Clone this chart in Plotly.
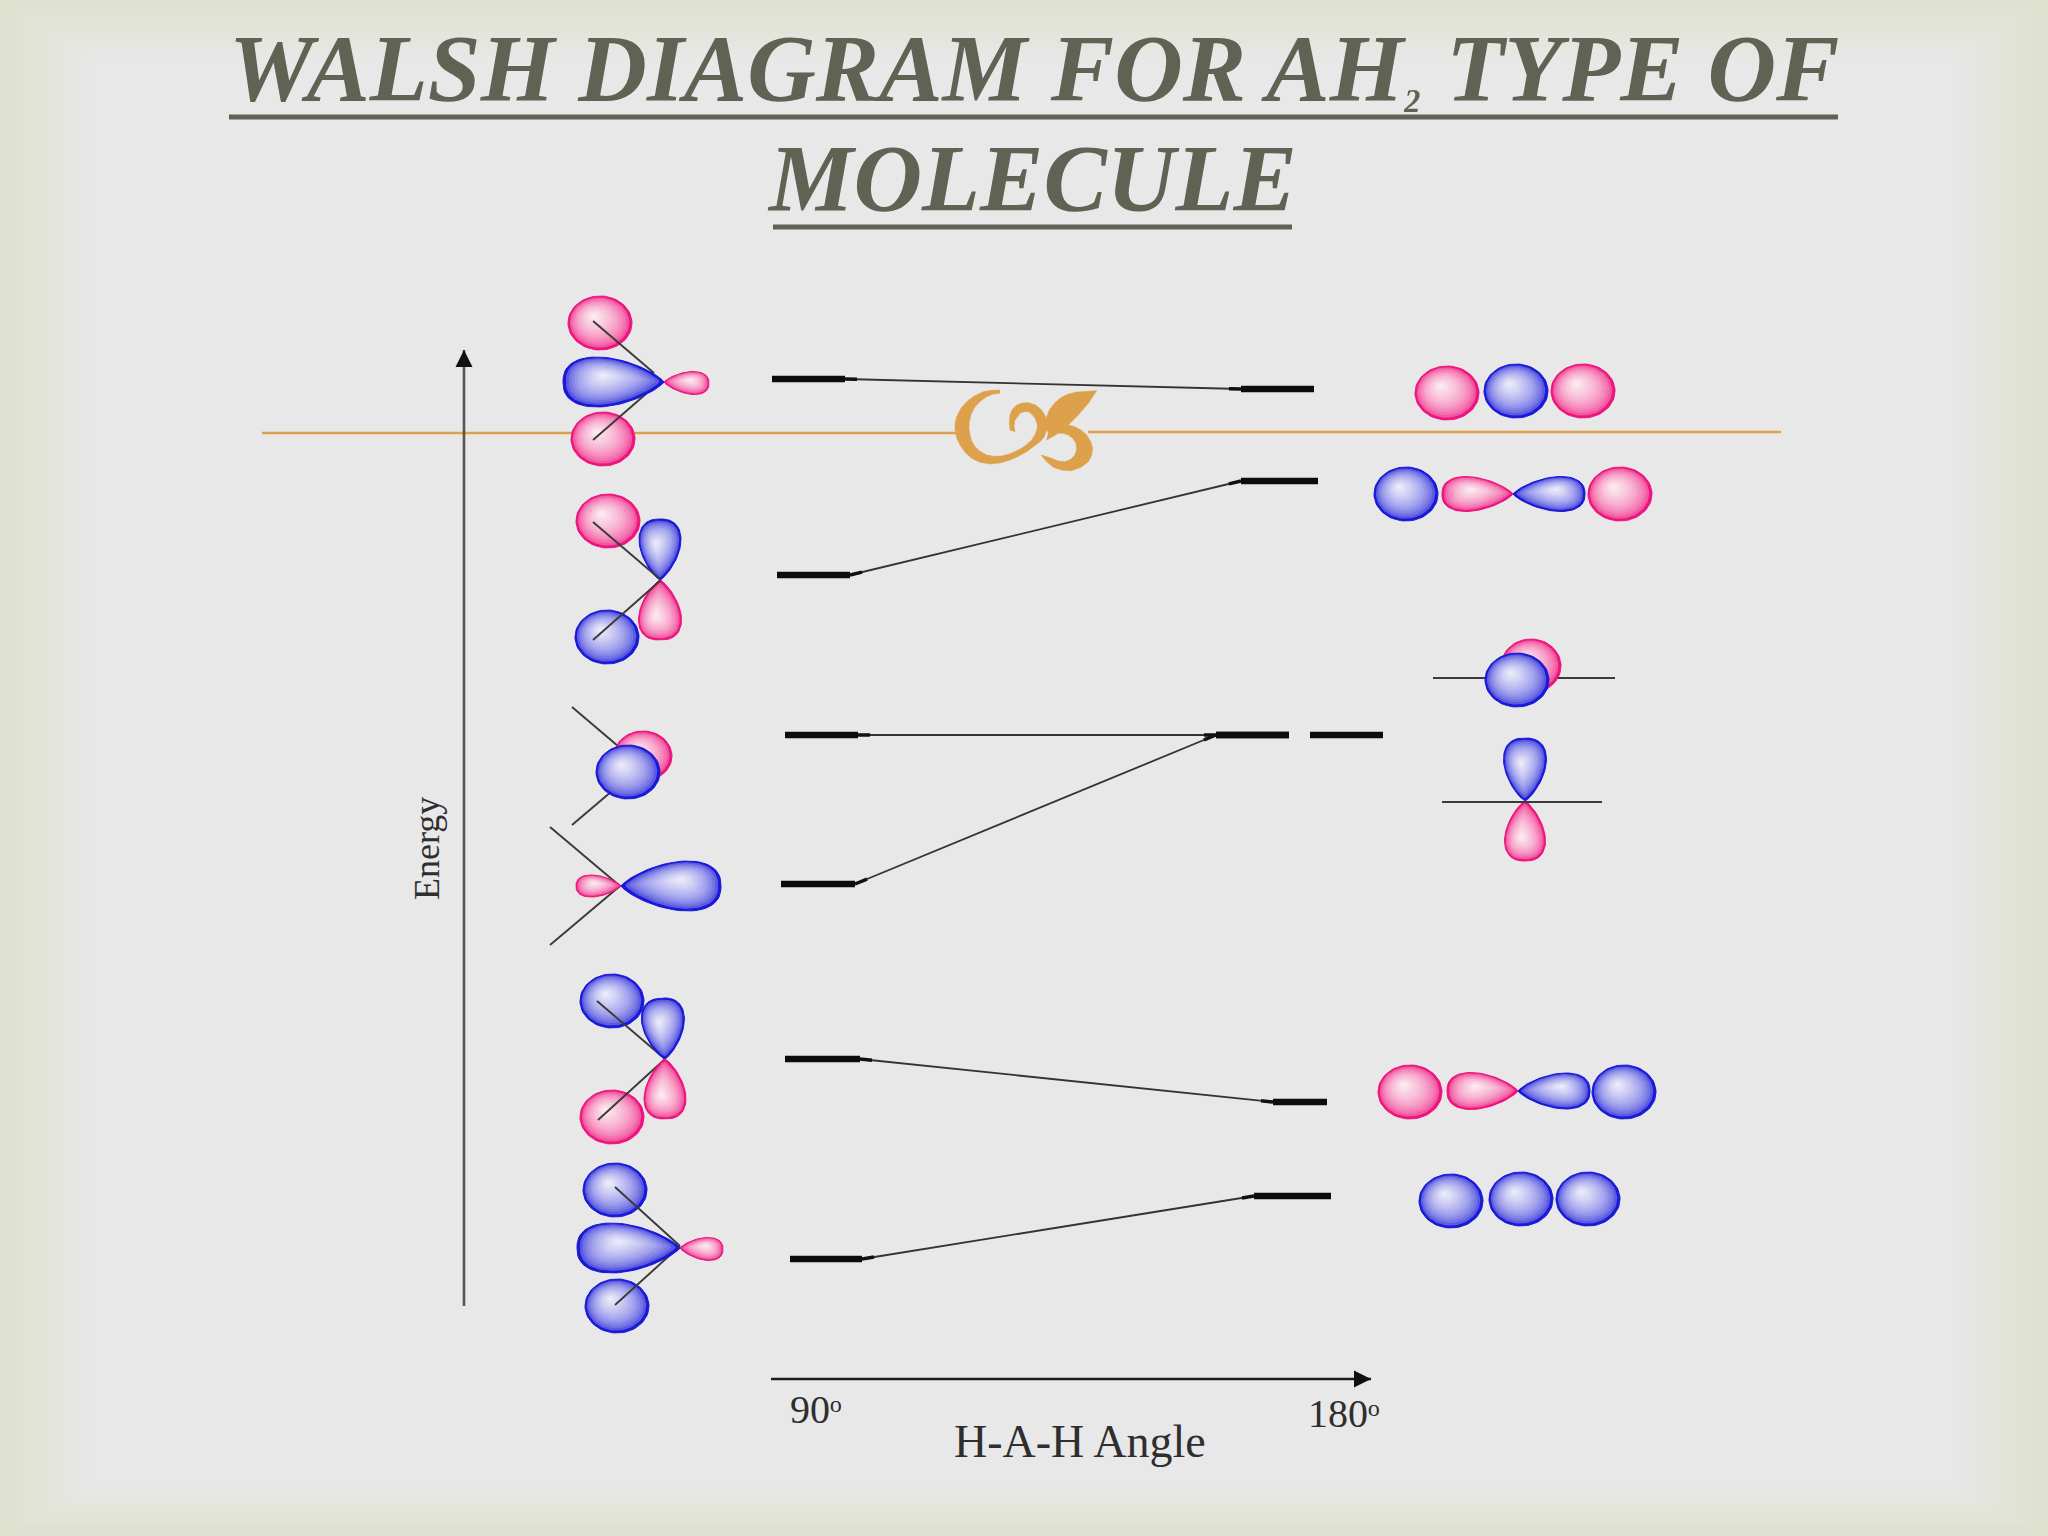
import math
import plotly.graph_objects as go

W, H = 2048, 1536

TITLE_LINES = ['WALSH DIAGRAM FOR AH<span style="font-size:54px">₂</span> TYPE OF', "MOLECULE"]
TITLE_X = [1034, 1032]
TITLE_Y = [69, 179]
TITLE_RULE_Y = [117, 227]
TITLE_RULE_X0 = [229, 773]
TITLE_RULE_X1 = [1838, 1292]

# energy levels (pixel scale of the picture)
LEFT_X0 = [772, 777, 785, 781, 785, 790]
LEFT_X1 = [845, 850, 858, 855, 860, 862]
LEFT_Y = [379, 575, 735, 884, 1059, 1259]
RIGHT_X0 = [1241, 1241, 1216, 1216, 1273, 1254]
RIGHT_X1 = [1314, 1318, 1289, 1289, 1327, 1331]
RIGHT_Y = [389, 481, 735, 735, 1102, 1196]
EXTRA_BAR_X = [1310, 1383]
EXTRA_BAR_Y = [735, 735]

ENERGY_AXIS_X = [464, 464]
ENERGY_AXIS_Y = [1306, 350]
ANGLE_AXIS_X = [771, 1371]
ANGLE_AXIS_Y = [1379, 1379]
AXIS_TEXTS = ["90ᵒ", "180ᵒ", "H-A-H Angle", "Energy"]
AXIS_TEXT_X = [816, 1344, 1080, 427]
AXIS_TEXT_Y = [1409, 1413, 1441, 849]
AXIS_TEXT_SIZE = [40, 40, 46, 36]
AXIS_TEXT_ANGLE = [0, 0, 0, -90]

RULE_LEFT_X = [262, 958]
RULE_LEFT_Y = [433, 433]
RULE_RIGHT_X = [1088, 1781]
RULE_RIGHT_Y = [432, 432]

ORNAMENT_C = [(180, 30), (155, 31), (130, 35), (103, 48), (80, 65), (62, 86), (50, 110), (45, 130), (45, 150),
              (50, 173), (60, 195), (75, 217), (95, 235), (120, 247), (150, 252), (180, 249), (210, 240),
              (235, 229), (260, 215), (282, 200), (300, 185), (312, 172), (320, 150), (322, 130), (316, 108),
              (305, 90), (287, 75), (265, 68), (246, 69), (230, 75), (217, 88), (210, 105), (208, 128),
              (210, 150), (225, 155), (222, 138), (224, 122), (240, 100), (252, 95), (265, 95), (276, 103),
              (285, 115), (291, 130), (292, 145), (286, 163), (275, 180), (256, 197), (235, 210), (210, 221),
              (185, 228), (160, 229), (140, 225), (120, 214), (105, 200), (95, 183), (90, 165), (87, 145),
              (88, 125), (94, 101), (105, 80), (122, 63), (140, 50), (160, 42), (180, 40)]
ORNAMENT_B = [(470, 32), (440, 33), (410, 36), (383, 43), (360, 55), (342, 71), (328, 90), (320, 110), (318, 130),
              (320, 148), (325, 160), (320, 180), (337, 170), (355, 160), (370, 160), (385, 165), (398, 175),
              (408, 190), (410, 208), (405, 225), (392, 238), (375, 245), (355, 243), (335, 235), (303, 225),
              (320, 245), (340, 262), (367, 271), (395, 272), (423, 262), (445, 245), (455, 226), (458, 205),
              (452, 185), (440, 165), (424, 151), (405, 140), (385, 135), (415, 105), (445, 70), (470, 32)]

PINK, BLUE = "p", "b"
# sphere: (colour, cx, cy, rx, ry); lobe: (colour, apex x, apex y, length, width, direction deg);
# bond: (x0, y0, x1, y1)
LEFT_1 = [("s", PINK, 600, 323, 32, 27), ("s", PINK, 603, 439, 32, 27),
          ("l", 593, 321, 654, 373), ("l", 593, 440, 647, 393),
          ("t", BLUE, 664, 382, 101, 50, 180), ("t", PINK, 664, 382, 45, 23, 2)]
LEFT_2 = [("s", PINK, 608, 521, 32, 27), ("s", BLUE, 607, 637, 32, 27),
          ("t", BLUE, 660, 580, 61, 42, -90), ("t", PINK, 660, 580, 60, 43, 90),
          ("l", 593, 522, 661, 580), ("l", 593, 640, 661, 580)]
LEFT_3 = [("l", 572, 707, 625, 752), ("l", 572, 825, 625, 780),
          ("s", PINK, 643, 756, 29, 25), ("s", BLUE, 628, 772, 32, 27)]
LEFT_4 = [("l", 550, 827, 620, 886), ("l", 550, 945, 620, 886),
          ("t", PINK, 621, 886, 45, 22, 180), ("t", BLUE, 621, 886, 100, 50, 0)]
LEFT_5 = [("s", BLUE, 612, 1001, 32, 27), ("s", PINK, 612, 1117, 32, 27),
          ("l", 597, 1001, 665, 1059), ("l", 598, 1120, 665, 1059),
          ("t", BLUE, 665, 1059, 61, 43, -93), ("t", PINK, 665, 1059, 60, 42, 90)]
LEFT_6 = [("s", BLUE, 615, 1190, 32, 27), ("s", BLUE, 617, 1306, 32, 27),
          ("l", 615, 1187, 680, 1246), ("l", 615, 1305, 680, 1246),
          ("t", BLUE, 680, 1248, 103, 50, 180), ("t", PINK, 680, 1248, 43, 23, 2)]
RIGHT_1 = [("s", PINK, 1447, 393, 32, 27), ("s", BLUE, 1516, 391, 32, 27), ("s", PINK, 1583, 391, 32, 27)]
RIGHT_2 = [("s", BLUE, 1406, 494, 32, 27), ("t", PINK, 1513, 494, 71, 35, 180),
           ("t", BLUE, 1513, 494, 72, 35, 0), ("s", PINK, 1620, 494, 32, 27)]
RIGHT_3 = [("l", 1433, 678, 1615, 678), ("s", PINK, 1531, 666, 30, 27), ("s", BLUE, 1517, 680, 32, 27)]
RIGHT_4 = [("t", BLUE, 1525, 801, 63, 43, -90), ("t", PINK, 1525, 801, 60, 41, 90),
           ("l", 1442, 802, 1602, 802)]
RIGHT_5 = [("s", PINK, 1410, 1092, 32, 27), ("t", PINK, 1518, 1091, 71, 37, 180),
           ("t", BLUE, 1518, 1091, 72, 36, 0), ("s", BLUE, 1624, 1092, 32, 27)]
RIGHT_6 = [("s", BLUE, 1451, 1201, 32, 27), ("s", BLUE, 1521, 1199, 32, 27), ("s", BLUE, 1588, 1199, 32, 27)]
DIAGRAM = [LEFT_1, LEFT_2, LEFT_3, LEFT_4, LEFT_5, LEFT_6, RIGHT_1, RIGHT_2, RIGHT_3, RIGHT_4, RIGHT_5, RIGHT_6]

EDGE = {"b": (25, 25, 215), "p": (238, 20, 125)}
CORE = {"b": (242, 242, 250), "p": (252, 242, 244)}
BG_EDGE = (222, 225, 206)
BG_CORE = (232, 232, 233)
BG_INSET = (95, 62, 100, 52)   # left, top, right, bottom
SHADES = 14
TEXT_COLOR = "#2e2e2e"
TITLE_COLOR = "#626254"
GOLD = "#dda14b"

fig = go.Figure()


def add_line(xs, ys, color, width):
    fig.add_trace(go.Scatter(x=xs, y=ys, mode="lines", line=dict(color=color, width=width),
                             hoverinfo="skip", showlegend=False))


def spow(v, p):
    return math.copysign(abs(v) ** p, v)


LOBE_PEAK = max(spow(math.sin(i * math.pi / 180), 0.8) * spow(math.sin(i * math.pi / 360), 0.8) for i in range(181))


def outline(item):
    if item[0] == "s":
        _, _, cx, cy, rx, ry = item
        pts = [(cx + rx * math.cos(i * math.pi / 36), cy + ry * math.sin(i * math.pi / 36)) for i in range(73)]
        return pts, (cx - 0.22 * rx, cy - 0.28 * ry)
    _, _, ax, ay, length, width, deg = item
    a = math.radians(deg)
    ca, sa = math.cos(a), math.sin(a)
    pts = []
    for i in range(73):
        t = i * math.pi / 36
        along = length * (1 - math.cos(t)) / 2
        perp = width / 2 * spow(math.sin(t), 0.8) * spow(math.sin(t / 2), 0.8) / LOBE_PEAK
        pts.append((ax + along * ca - perp * sa, ay + along * sa + perp * ca))
    fx = ax + 0.6 * length * ca - 0.1 * width * abs(sa)
    fy = ay + 0.6 * length * sa - 0.14 * width * abs(ca)
    return pts, (fx, fy)


def add_orbital(item):
    pts, (fx, fy) = outline(item)
    key = item[1]
    for k in range(SHADES):
        s = 1 - k / SHADES
        mix = (1 - s) ** 0.45
        c = [round(EDGE[key][j] + (CORE[key][j] - EDGE[key][j]) * mix) for j in range(3)]
        color = f"rgb({c[0]},{c[1]},{c[2]})"
        xs = [fx + s * (p[0] - fx) for p in pts]
        ys = [fy + s * (p[1] - fy) for p in pts]
        fig.add_trace(go.Scatter(x=xs, y=ys, mode="lines", fill="toself", fillcolor=color,
                                 line=dict(color=color, width=1 if k == 0 else 0),
                                 hoverinfo="skip", showlegend=False))


def add_arrow(xs, ys, line_color, symbol, size):
    fig.add_trace(go.Scatter(x=xs, y=ys, mode="lines", line=dict(color=line_color, width=2.6),
                             hoverinfo="skip", showlegend=False))
    fig.add_trace(go.Scatter(x=[xs[1]], y=[ys[1]], mode="markers",
                             marker=dict(symbol=symbol, size=size, color="#111111", line=dict(width=0)),
                             hoverinfo="skip", showlegend=False))


# gold rule and ornament
add_line(RULE_LEFT_X, RULE_LEFT_Y, GOLD, 2.6)
add_line(RULE_RIGHT_X, RULE_RIGHT_Y, GOLD, 2.6)
for glyph in (ORNAMENT_C, ORNAMENT_B):
    fig.add_trace(go.Scatter(x=[940 + p[0] / 3 for p in glyph], y=[380 + p[1] / 3 for p in glyph],
                             mode="lines", fill="toself", fillcolor=GOLD,
                             line=dict(color=GOLD, width=0.5),
                             hoverinfo="skip", showlegend=False))
# title rules
for i in range(2):
    add_line([TITLE_RULE_X0[i], TITLE_RULE_X1[i]], [TITLE_RULE_Y[i]] * 2, TITLE_COLOR, 5)

# energy levels
for i in range(6):
    add_line([LEFT_X1[i], RIGHT_X0[i]], [LEFT_Y[i], RIGHT_Y[i]], "#333333", 1.8)
    run = RIGHT_X0[i] - LEFT_X1[i]
    rise = RIGHT_Y[i] - LEFT_Y[i]
    add_line([LEFT_X1[i], LEFT_X1[i] + 12], [LEFT_Y[i], LEFT_Y[i] + rise * 12 / run], "#111111", 3.5)
    add_line([RIGHT_X0[i] - 12, RIGHT_X0[i]], [RIGHT_Y[i] - rise * 12 / run, RIGHT_Y[i]], "#111111", 3.5)
    add_line([LEFT_X0[i], LEFT_X1[i]], [LEFT_Y[i]] * 2, "#0c0c0c", 6.5)
    add_line([RIGHT_X0[i], RIGHT_X1[i]], [RIGHT_Y[i]] * 2, "#0c0c0c", 6.5)
add_line(EXTRA_BAR_X, EXTRA_BAR_Y, "#0c0c0c", 6.5)

# orbitals and bonds
for group in DIAGRAM:
    for item in group:
        if item[0] == "l":
            add_line([item[1], item[3]], [item[2], item[4]], "#3a3a3a", 1.9)
        else:
            add_orbital(item)

# axes
add_arrow(ENERGY_AXIS_X, ENERGY_AXIS_Y, "#555555", "arrow-up", 17)
add_arrow(ANGLE_AXIS_X, ANGLE_AXIS_Y, "#1c1c1c", "arrow-right", 17)

annotations = []
for i, line in enumerate(TITLE_LINES):
    annotations.append(dict(x=TITLE_X[i], y=TITLE_Y[i], xref="x", yref="y", text=line,
                            showarrow=False, xanchor="center", yanchor="middle",
                            font=dict(family="Liberation Serif", size=95, color=TITLE_COLOR,
                                      weight="bold", style="italic")))
for i, t in enumerate(AXIS_TEXTS):
    annotations.append(dict(x=AXIS_TEXT_X[i], y=AXIS_TEXT_Y[i], xref="x", yref="y", text=t,
                            showarrow=False, textangle=AXIS_TEXT_ANGLE[i], xanchor="center", yanchor="middle",
                            font=dict(family="Liberation Serif", size=AXIS_TEXT_SIZE[i], color=TEXT_COLOR)))

# page background: greenish border fading into the grey slide
shapes = []
BANDS = 16
for b in range(BANDS + 1):
    f = b / BANDS
    c = [round(BG_EDGE[j] + (BG_CORE[j] - BG_EDGE[j]) * f) for j in range(3)]
    shapes.append(dict(type="rect", xref="x", yref="y", layer="below", line=dict(width=0),
                       fillcolor=f"rgb({c[0]},{c[1]},{c[2]})",
                       x0=BG_INSET[0] * f, y0=BG_INSET[1] * f, x1=W - BG_INSET[2] * f, y1=H - BG_INSET[3] * f))

fig.update_layout(width=W, height=H, margin=dict(l=0, r=0, t=0, b=0), showlegend=False,
                  paper_bgcolor=f"rgb{BG_EDGE}", plot_bgcolor=f"rgb{BG_EDGE}",
                  annotations=annotations, shapes=shapes,
                  xaxis=dict(range=[0, W], visible=False, fixedrange=True),
                  yaxis=dict(range=[H, 0], visible=False, fixedrange=True))
fig.write_html("out.html", post_script="document.body.style.margin='0';", config=dict(displayModeBar=False))
